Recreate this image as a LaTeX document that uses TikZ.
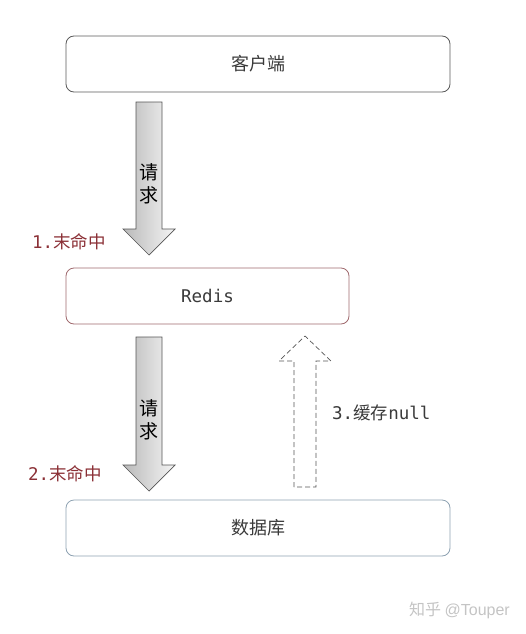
\documentclass[tikz,border=0pt]{standalone}
\usepackage{fontspec}
\setmainfont{DejaVu Sans}
\newfontfamily\cjk{Noto Sans CJK SC}
\newfontfamily\mono{DejaVu Sans Mono}
\newfontfamily\wm{Liberation Sans}
\usetikzlibrary{shadings}
\definecolor{txt}{HTML}{3A3A3A}
\definecolor{redlab}{HTML}{8B3036}
\definecolor{redisb}{HTML}{A06A6E}
\definecolor{dbb}{HTML}{8EA2B2}
\definecolor{clib}{HTML}{5A5A5A}
\definecolor{arrb}{HTML}{555555}
\definecolor{wmc}{HTML}{C4C4C4}
\tikzset{
  box/.style={draw, rounded corners=8pt, line width=0.8pt, fill=white, text=txt, inner sep=0pt},
  blockarrow/.style={draw=arrb, line width=0.7pt, left color=gray!55, right color=gray!8},
  dasharrow/.style={draw=arrb, line width=0.7pt, dash pattern=on 5pt off 3pt},
  lab/.style={text=redlab, inner sep=0pt},
  vtext/.style={text=black, font=\cjk\fontsize{19}{23}\selectfont, align=center, inner sep=0pt}
}
\begin{document}
\begin{tikzpicture}[x=1pt,y=-1pt]
\useasboundingbox (0,0) rectangle (525,634);
% boxes
\node[box, draw=clib, minimum width=384pt, minimum height=56pt, font=\cjk\fontsize{18}{18}\selectfont] (client) at (258,64) {客户端};
\node[box, draw=redisb, minimum width=283pt, minimum height=56pt, font=\mono\fontsize{17.5}{18}\selectfont] (redis) at (207.5,296) {Redis};
\node[box, draw=dbb, minimum width=384pt, minimum height=56pt, font=\cjk\fontsize{18}{18}\selectfont] (db) at (258,528) {数据库};
% block arrow 1
\draw[blockarrow] (136,102) -- (162,102) -- (162,229) -- (175,229) -- (149,255) -- (123,229) -- (136,229) -- cycle;
\node[vtext] (req1) at (149,184) {请\\求};
\node[lab, anchor=west] (miss1) at (32,242) {\mono\fontsize{17.5}{18}\selectfont 1.\cjk 末命中};
% block arrow 2
\draw[blockarrow] (136,337) -- (162,337) -- (162,465) -- (175,465) -- (149,491) -- (123,465) -- (136,465) -- cycle;
\node[vtext] (req2) at (149,420) {请\\求};
\node[lab, anchor=west] (miss2) at (28,474) {\mono\fontsize{17.5}{18}\selectfont 2.\cjk 末命中};
% dashed arrow up
\draw[dasharrow] (294,487) -- (294,361) -- (279,361) -- (305,336) -- (331,361) -- (316,361) -- (316,487) -- cycle;
\node[text=txt, anchor=west, inner sep=0pt] (cache) at (332,413) {\mono\fontsize{17.5}{18}\selectfont 3.\cjk 缓存\mono null};
% watermark
\node[text=wmc, anchor=east, inner sep=0pt, font=\fontsize{16}{16}\selectfont] (wm) at (510,610) {\cjk 知乎 \wm @Touper};
\end{tikzpicture}
\end{document}
